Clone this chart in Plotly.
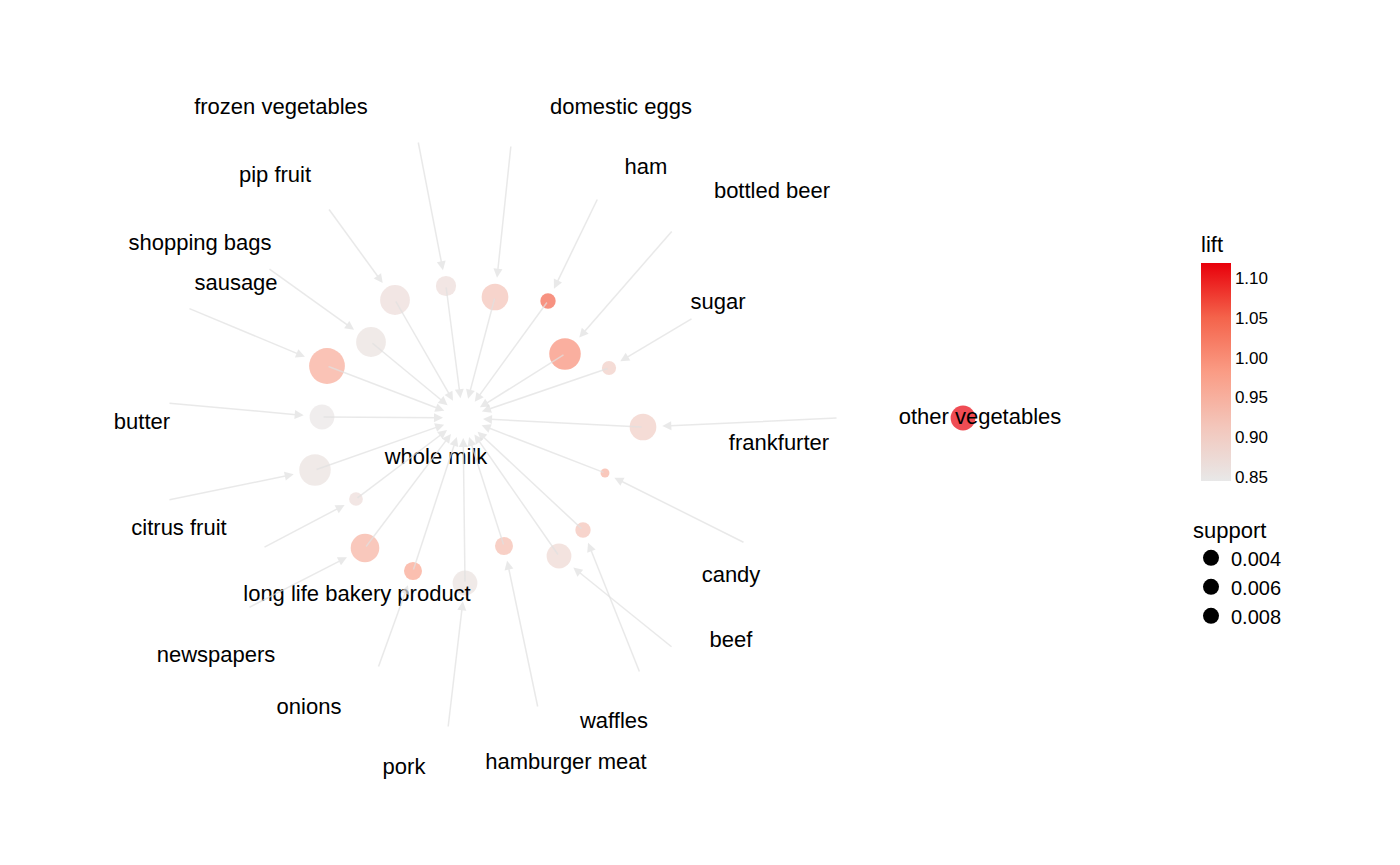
import numpy as np
import plotly.graph_objects as go

# rule nodes (layout coordinates), their lift and support
rule_x = [387, 438, 487, 540, 557, 601, 635, 597, 575, 551, 496, 457, 405, 357, 348, 307, 314, 319, 363, 955]
rule_y = [292, 278, 289, 293, 346, 360, 419, 465, 522, 548, 538, 575, 563, 540, 491, 462, 409, 358, 334, 410]
lift = [0.87, 0.87, 0.92, 1.05, 1.0, 0.9, 0.9, 0.95, 0.92, 0.88, 0.93, 0.86, 0.97, 0.95, 0.87, 0.86, 0.85, 0.96, 0.86, 1.12]
support = [0.0095, 0.0055, 0.0082, 0.0035, 0.0102, 0.003, 0.0082, 0.0008, 0.0035, 0.0074,
           0.0046, 0.0074, 0.0046, 0.009, 0.0028, 0.0102, 0.0074, 0.012, 0.0095, 0.0074]

# item nodes: label, label position, edge start, rule index
items = ["frozen vegetables", "domestic eggs", "ham", "bottled beer", "pip fruit", "shopping bags",
         "sausage", "sugar", "butter", "frankfurter", "citrus fruit", "candy", "newspapers",
         "long life bakery product", "onions", "pork", "hamburger meat", "waffles", "beef"]
label_x = [273, 613, 638, 764, 267, 192, 228, 710, 134, 771, 171, 723, 208, 349, 301, 396, 558, 606, 723]
label_y = [100, 100, 160, 184, 168, 236, 276, 295, 415, 436, 521, 568, 648, 587, 700, 760, 755, 714, 633]
start_x = [410, 503, 590, 665, 320, 260, 180, 685, 160, 830, 160, 737, 240, 255, 370, 440, 530, 632, 665]
start_y = [133, 137, 190, 222, 200, 260, 300, 310, 395, 410, 492, 535, 600, 540, 660, 720, 700, 665, 640]
item_rule = [1, 2, 3, 4, 0, 18, 17, 5, 16, 6, 15, 7, 13, 14, 12, 11, 10, 8, 9]

center = (455, 410)
center_label = "whole milk"
extra_label = "other vegetables"

def diam(s):
    return 7 + 2400 * s

fig = go.Figure()
edge = "rgba(225,225,225,0.7)"

def arrow(x0, y0, x1, y1, gap):
    d = np.hypot(x1 - x0, y1 - y0)
    ex, ey = x1 - (x1 - x0) * gap / d, y1 - (y1 - y0) * gap / d
    fig.add_annotation(x=ex, y=ey, ax=x0, ay=y0, xref="x", yref="y", axref="x", ayref="y",
                       showarrow=True, arrowhead=2, arrowsize=1.2, arrowwidth=1.5,
                       arrowcolor=edge, text="")

for i in range(len(items)):
    r = item_rule[i]
    arrow(start_x[i], start_y[i], rule_x[r], rule_y[r], diam(support[r]) / 2 + 6)
for r in range(len(rule_x) - 1):
    arrow(rule_x[r], rule_y[r], center[0], center[1], 20)

scale = [[0, "#E8E8E8"], [0.25, "#F3C6BB"], [0.5, "#FA9C85"], [0.75, "#F4634B"], [1, "#E8000B"]]

fig.add_trace(go.Scatter(
    x=rule_x, y=rule_y, mode="markers", showlegend=False, hoverinfo="skip",
    marker=dict(size=[diam(s) for s in support], color=lift, cmin=0.845, cmax=1.12,
                colorscale=scale, line=dict(width=0),
                colorbar=dict(title=dict(text="lift", font=dict(size=22)), x=0.845, xanchor="left",
                              y=0.752, yanchor="top", len=0.31, lenmode="fraction", thickness=30,
                              tickvals=[0.85, 0.9, 0.95, 1.0, 1.05, 1.1],
                              ticktext=["0.85", "0.90", "0.95", "1.00", "1.05", "1.10"],
                              tickfont=dict(size=17), outlinewidth=0, ticks=""))))

fig.add_trace(go.Scatter(x=label_x, y=label_y, text=items, mode="text", showlegend=False,
                         textfont=dict(size=22, color="black"), hoverinfo="skip"))
fig.add_trace(go.Scatter(x=[428, 972], y=[450, 410], text=[center_label, extra_label], mode="text",
                         showlegend=False, textfont=dict(size=22, color="black"), hoverinfo="skip"))

for s in [0.004, 0.006, 0.008]:
    fig.add_trace(go.Scatter(x=[None], y=[None], mode="markers", name="%.3f" % s,
                             marker=dict(size=diam(s), color="black")))

fig.update_layout(
    width=1400, height=865, margin=dict(l=0, r=0, t=0, b=0),
    plot_bgcolor="white", paper_bgcolor="white",
    font=dict(family="Liberation Sans, Arial", color="black"),
    xaxis=dict(range=[0, 1400], visible=False),
    yaxis=dict(range=[865, 0], visible=False),
    legend=dict(title=dict(text="support", font=dict(size=22)), x=0.845, y=0.42,
                xanchor="left", yanchor="top", font=dict(size=20), itemsizing="trace"),
)
fig.write_html("out.html")
